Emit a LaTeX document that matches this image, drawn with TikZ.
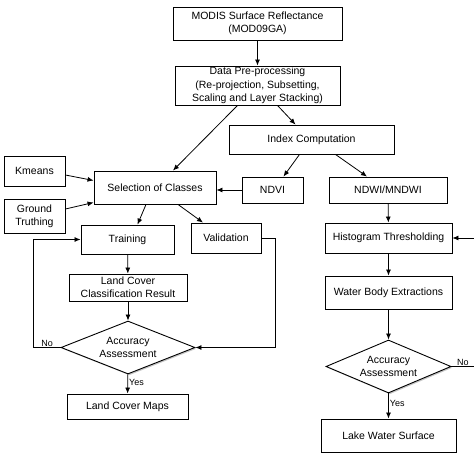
\documentclass[tikz,border=0pt]{standalone}
\usepackage{fontspec}
\setmainfont{Liberation Sans}
\usetikzlibrary{shapes.geometric,shadows,arrows.meta}
\begin{document}
\begin{tikzpicture}[x=1pt,y=-1pt,
  box/.style={draw, line width=0.9pt, fill=white, align=center, inner sep=0pt,
    font=\fontsize{10.5}{13.3}\selectfont,
    drop shadow={shadow xshift=1.3pt, shadow yshift=-1.3pt, opacity=0.45}},
  dia/.style={draw, line width=0.9pt, fill=white, align=center, inner sep=0pt,
    shape=diamond, aspect=2.5, font=\fontsize{10.5}{13.3}\selectfont,
    drop shadow={shadow xshift=1.3pt, shadow yshift=-1.3pt, opacity=0.45}},
  arr/.style={line width=0.8pt, -{Latex[length=6pt,width=5pt]}},
  lbl/.style={font=\fontsize{9}{11}\selectfont, inner sep=1pt}]
\useasboundingbox (0,0) rectangle (474,474);
\clip (0,0) rectangle (474,474);
\fill[white] (0,0) rectangle (474,474);

\node[box, minimum width=169, minimum height=33] (modis) at (257.5,23.5) {MODIS Surface Reflectance\\(MOD09GA)};
\node[box, minimum width=165, minimum height=39] (dp) at (257.5,85.5) {Data Pre-processing\\(Re-projection, Subsetting,\\Scaling and Layer Stacking)};
\node[box, minimum width=165, minimum height=29] (idx) at (311.5,139.5) {Index Computation};
\node[box, minimum width=61, minimum height=30] (km) at (34.5,171) {Kmeans};
\node[box, minimum width=122, minimum height=33] (sel) at (155,187.5) {Selection of Classes};
\node[box, minimum width=61, minimum height=26] (ndvi) at (272.5,190) {NDVI};
\node[box, minimum width=118, minimum height=26] (ndwi) at (388,190) {NDWI/MNDWI};
\node[box, minimum width=61, minimum height=34] (gt) at (34.5,216) {Ground\\Truthing};
\node[box, minimum width=93, minimum height=29] (train) at (127.5,239.5) {Training};
\node[box, minimum width=70, minimum height=30] (val) at (226,238) {Validation};
\node[box, minimum width=127, minimum height=30] (hist) at (388.5,238) {Histogram Thresholding};
\node[box, minimum width=118, minimum height=27] (lccr) at (128,287.5) {Land Cover\\Classification Result};
\node[dia, minimum width=134, minimum height=53] (acc1) at (128,347.5) {Accuracy\\Assessment};
\node[box, minimum width=121, minimum height=25] (lcm) at (127.5,406.5) {Land Cover Maps};
\node[box, minimum width=127, minimum height=33] (wbe) at (388.5,292.5) {Water Body Extractions};
\node[dia, minimum width=125, minimum height=53] (acc2) at (388.5,366.5) {Accuracy\\Assessment};
\node[box, minimum width=135, minimum height=33] (lws) at (388.5,435.5) {Lake Water Surface};

\draw[arr] (modis) -- (dp);
\draw[arr] ([xshift=-20pt]dp.south) -- ([xshift=18pt]sel.north);
\draw[arr] ([xshift=20pt]dp.south) -- ([xshift=-16pt]idx.north);
\draw[arr] ([xshift=-12pt]idx.south) -- ([xshift=11pt]ndvi.north);
\draw[arr] ([xshift=24pt]idx.south) -- ([xshift=-21pt]ndwi.north);
\draw[arr] ([yshift=-4pt]km.east) -- ([yshift=7pt]sel.west);
\draw[arr] ([yshift=7pt]gt.east) -- ([yshift=-15pt]sel.west);
\draw[arr] (ndvi.west) -- (ndvi.west -| sel.east);
\draw[arr] ([xshift=-9pt]sel.south) -- ([xshift=10pt]train.north);
\draw[arr] ([xshift=23pt]sel.south) -- ([xshift=-23pt]val.north);
\draw[arr] (ndwi) -- (hist);
\draw[arr] (train) -- (lccr);
\draw[arr] (lccr) -- (acc1);
\draw[arr] (acc1) -- node[lbl, right, pos=0.4] {Yes} (lcm);
\draw[arr] (acc1.west) -- ++(-27,0) node[lbl, above, pos=0.5] {No} |- (train.west);
\draw[arr] (val.east) -- ++(14,0) |- (acc1.east);
\draw[arr] (hist) -- (wbe);
\draw[arr] (wbe) -- (acc2);
\draw[arr] (acc2) -- node[lbl, right, pos=0.4] {Yes} (lws);
\draw[arr] (acc2.east) -- ++(30,0) node[lbl, above, pos=0.38] {No} |- (hist.east);
\end{tikzpicture}
\end{document}
